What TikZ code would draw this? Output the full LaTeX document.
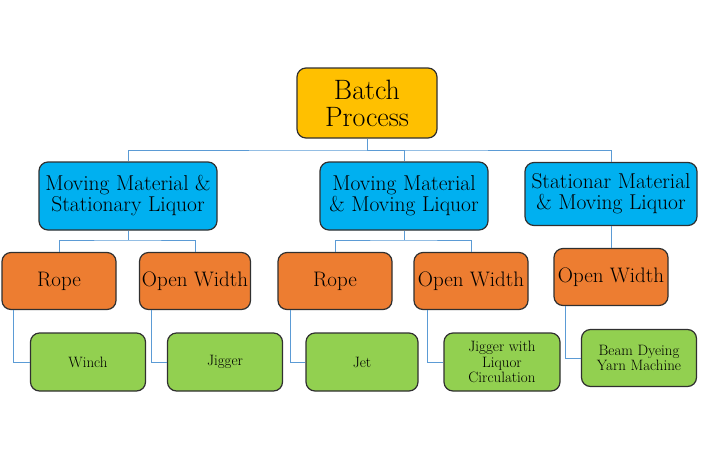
\documentclass[tikz,border=0pt]{standalone}
\definecolor{cgold}{HTML}{FFC000}
\definecolor{cblue}{HTML}{00B0F0}
\definecolor{corange}{HTML}{ED7D31}
\definecolor{cgreen}{HTML}{92D050}
\definecolor{cline}{HTML}{5B9BD5}
\definecolor{cborder}{HTML}{303030}
\begin{document}
\begin{tikzpicture}[x=1pt,y=-1pt,
  box/.style={draw=cborder,line width=1.2pt,rounded corners=9pt,align=center,inner sep=1pt},
  topbox/.style={box,fill=cgold,minimum width=140pt,minimum height=70pt,font=\fontsize{28}{27}\selectfont},
  midbox/.style={box,fill=cblue,font=\fontsize{21.5}{21}\selectfont},
  orbox/.style={box,fill=corange,minimum width=114pt,minimum height=57pt,font=\fontsize{21}{22}\selectfont},
  grbox/.style={box,fill=cgreen,minimum width=114pt,minimum height=58pt,font=\fontsize{15}{15.5}\selectfont},
  conn/.style={draw=cline,line width=1pt}]
\useasboundingbox (0,0) rectangle (705,459);
\node[topbox] (bp) at (367,103) {Batch\\Process};
\node[midbox,minimum width=178pt,minimum height=68pt] (m1) at (128,196) {Moving Material \&\\Stationary Liquor};
\node[midbox,minimum width=168pt,minimum height=68pt] (m2) at (404,196) {Moving Material\\\& Moving Liquor};
\node[midbox,minimum width=172pt,minimum height=63pt] (m3) at (611,194) {Stationar Material\\\& Moving Liquor};
\node[orbox] (r1) at (59,281) {Rope};
\node[orbox,minimum width=111pt] (o1) at (195,281) {Open Width};
\node[orbox] (r2) at (335,281) {Rope};
\node[orbox] (o2) at (471,281) {Open Width};
\node[orbox] (o3) at (611,277) {Open Width};
\node[grbox,minimum width=115pt] (g1) at (88,362) {Winch};
\node[grbox,minimum width=115pt] (g2) at (225,362) {Jigger};
\node[grbox,minimum width=112pt] (g3) at (362,362) {Jet};
\node[grbox,minimum width=116pt] (g4) at (502,362) {Jigger with\\Liquor\\Circulation};
\node[grbox,minimum width=115pt,minimum height=57pt] (g5) at (639,358) {Beam Dyeing\\Yarn Machine};
% connectors
\coordinate (j0) at (367,150);
\draw[conn] (bp.south) -- (j0);
\draw[conn] (m1.north) |- (j0) -| (m3.north);
\draw[conn] (j0) -| (m2.north);
\coordinate (j1) at (128,240);
\draw[conn] (m1.south) -- (j1);
\draw[conn] (r1.north) |- (j1) -| (o1.north);
\coordinate (j2) at (404,240);
\draw[conn] (m2.south) -- (j2);
\draw[conn] (r2.north) |- (j2) -| (o2.north);
\draw[conn] (m3.south) -- (o3.north);
\draw[conn] (r1.south -| 13,0) |- (g1.west);
\draw[conn] (o1.south -| 151,0) |- (g2.west);
\draw[conn] (r2.south -| 290,0) |- (g3.west);
\draw[conn] (o2.south -| 427,0) |- (g4.west);
\draw[conn] (o3.south -| 565,0) |- (g5.west);
\end{tikzpicture}
\end{document}
